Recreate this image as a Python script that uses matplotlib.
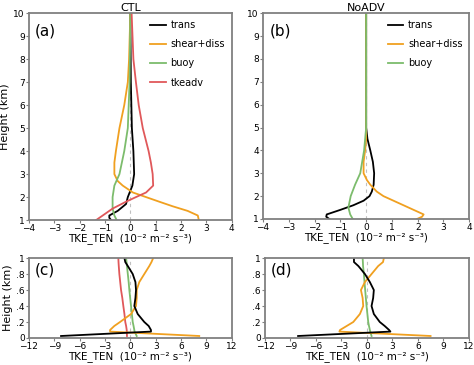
import numpy as np
import matplotlib
matplotlib.use('Agg')
import matplotlib.pyplot as plt

# ---- upper panels: height 1-10 km ----
ctl_trans_z = [10, 7, 5, 4, 3, 2.5, 2, 1.7, 1.4, 1.2, 1.1, 1.0]
ctl_trans_x = [0.0, 0.02, 0.06, 0.12, 0.15, 0.08, -0.1, -0.17, -0.5, -0.83, -0.83, -0.76]

ctl_shear_z = [10, 8, 7, 6, 5, 4, 3.5, 3, 2.7, 2.5, 2.2, 2.0, 1.8, 1.6, 1.4, 1.2, 1.0]
ctl_shear_x = [0.0, -0.05, -0.1, -0.24, -0.43, -0.57, -0.63, -0.63, -0.5, -0.3, 0.1, 0.62,
               1.14, 1.67, 2.26, 2.66, 2.7]

ctl_buoy_z = [10, 7, 5, 4, 3, 2.5, 2, 1.5, 1.2, 1.0]
ctl_buoy_x = [0.0, -0.03, -0.1, -0.24, -0.43, -0.63, -0.7, -0.7, -0.63, -0.54]

ctl_adv_z = [10, 8, 7, 6, 5, 4, 3.5, 3, 2.5, 2.2, 2.0, 1.8, 1.5, 1.2, 1.0]
ctl_adv_x = [0.05, 0.12, 0.22, 0.33, 0.49, 0.72, 0.81, 0.88, 0.9, 0.62, 0.22, -0.17, -0.7, -1.09, -1.35]

noadv_trans_z = [10, 5, 4.5, 4, 3.5, 3, 2.5, 2.2, 2.0, 1.8, 1.6, 1.4, 1.2, 1.1, 1.0]
noadv_trans_x = [0.0, 0.0, 0.05, 0.16, 0.26, 0.31, 0.29, 0.22, 0.13, -0.1, -0.5, -1.0, -1.53, -1.55, -1.43]

noadv_shear_z = [10, 4.5, 4, 3.5, 3, 2.7, 2.5, 2.2, 2.0, 1.8, 1.6, 1.4, 1.2, 1.1, 1.0]
noadv_shear_x = [0.0, 0.0, -0.04, -0.1, -0.1, 0.03, 0.16, 0.41, 0.67, 1.06, 1.45, 1.84, 2.23, 2.17, 1.97]

noadv_buoy_z = [10, 5, 4, 3, 2.5, 2, 1.5, 1.2, 1.0]
noadv_buoy_x = [0.0, 0.0, -0.08, -0.23, -0.43, -0.6, -0.69, -0.62, -0.52]

# ---- lower panels: height 0-1 km ----
low_z = [1.0, 0.95, 0.9, 0.8, 0.7, 0.6, 0.5, 0.4, 0.3, 0.2, 0.15, 0.1, 0.08, 0.025]

ctl_trans_low = [-0.7, -0.6, -0.3, 0.28, 0.6, 0.67, 0.6, 0.47, 0.87, 1.65, 2.17, 2.44, 2.44, -8.2]
ctl_shear_low = [2.7, 2.5, 2.24, 1.65, 1.06, 0.75, 0.75, 0.67, 0.08, -1.22, -1.9, -2.4, -2.4, 8.15]
ctl_buoy_low = [-0.5, -0.45, -0.4, -0.3, -0.2, -0.12, -0.02, 0.08, 0.18, 0.28, 0.38, 0.47, 0.5, 0.75]
ctl_adv_low = [-1.42, -1.4, -1.37, -1.3, -1.2, -1.1, -0.95, -0.83, -0.7, -0.6, -0.5, -0.43, -0.42, -0.4]

noadv_trans_low = [-1.52, -1.52, -1.0, -0.23, 0.35, 0.82, 0.74, 0.55, 0.82, 1.52, 2.1, 2.62, 2.77, -8.1]
noadv_shear_low = [2.0, 1.9, 1.33, 0.55, -0.23, -0.7, -0.5, -0.43, -0.82, -1.6, -2.38, -3.16, -3.24, 7.5]
noadv_buoy_low = [-0.5, -0.47, -0.45, -0.35, -0.28, -0.2, -0.12, -0.04, 0.06, 0.16, 0.25, 0.35, 0.4, 0.55]

c_trans = 'black'
c_shear = '#f0a020'
c_buoy = '#7cbc6c'
c_adv = '#e0585a'
frame_col = '#808080'
xlab = 'TKE_TEN  (10\u207b\u00b2 m\u207b\u00b2 s\u207b\u00b3)'

plt.rcParams['font.family'] = 'DejaVu Sans'
fig = plt.figure(figsize=(4.74, 3.65), dpi=100)

ax_a = fig.add_axes([0.061, 0.397, 0.428, 0.567])
ax_b = fig.add_axes([0.555, 0.400, 0.435, 0.564])
ax_c = fig.add_axes([0.061, 0.074, 0.428, 0.219])
ax_d = fig.add_axes([0.559, 0.074, 0.430, 0.219])


def style(ax, letter):
    for s in ax.spines.values():
        s.set_color(frame_col)
        s.set_linewidth(1.3)
    ax.tick_params(direction='out', length=2.5, width=0.8, color=frame_col,
                   labelsize=6.5, pad=0.5)
    ax.text(0.03, 0.95, letter, transform=ax.transAxes, fontsize=11,
            va='top', ha='left')
    ax.set_xlabel(xlab, fontsize=7.5, labelpad=0)


lw = 1.3
# (a)
ax_a.axvline(0, color='#c0c0c0', lw=0.8, ls=(0, (3, 3)), zorder=0)
ax_a.plot(ctl_trans_x, ctl_trans_z, color=c_trans, lw=lw, label='trans')
ax_a.plot(ctl_shear_x, ctl_shear_z, color=c_shear, lw=lw, label='shear+diss')
ax_a.plot(ctl_buoy_x, ctl_buoy_z, color=c_buoy, lw=lw, label='buoy')
ax_a.plot(ctl_adv_x, ctl_adv_z, color=c_adv, lw=lw, label='tkeadv')
ax_a.set_xlim(-4, 4)
ax_a.set_ylim(1, 10)
ax_a.set_xticks(range(-4, 5))
ax_a.set_yticks(range(1, 11))
ax_a.set_ylabel('Height (km)', fontsize=8, labelpad=2)
ax_a.set_title('CTL', fontsize=8, pad=1)
style(ax_a, '(a)')
ax_a.legend(loc='upper right', frameon=False, fontsize=7, handlelength=1.6,
            labelspacing=0.95, borderaxespad=0.3, handletextpad=0.5)

# (b)
ax_b.axvline(0, color='#c0c0c0', lw=0.8, ls=(0, (3, 3)), zorder=0)
ax_b.plot(noadv_trans_x, noadv_trans_z, color=c_trans, lw=lw, label='trans')
ax_b.plot(noadv_shear_x, noadv_shear_z, color=c_shear, lw=lw, label='shear+diss')
ax_b.plot(noadv_buoy_x, noadv_buoy_z, color=c_buoy, lw=lw, label='buoy')
ax_b.set_xlim(-4, 4)
ax_b.set_ylim(1, 10)
ax_b.set_xticks(range(-4, 5))
ax_b.set_yticks(range(1, 11))
ax_b.set_title('NoADV', fontsize=8, pad=1)
style(ax_b, '(b)')
ax_b.legend(loc='upper right', frameon=False, fontsize=7, handlelength=1.6,
            labelspacing=0.95, borderaxespad=0.3, handletextpad=0.5)

ylow_ticks = [0, 0.2, 0.4, 0.6, 0.8, 1.0]
ylow_labels = ['0', '.2', '.4', '.6', '.8', '1']

# (c)
ax_c.axvline(0, color='#c0c0c0', lw=0.8, ls=(0, (3, 3)), zorder=0)
ax_c.plot(ctl_adv_low, low_z, color=c_adv, lw=lw)
ax_c.plot(ctl_buoy_low, low_z, color=c_buoy, lw=lw)
ax_c.plot(ctl_shear_low, low_z, color=c_shear, lw=lw)
ax_c.plot(ctl_trans_low, low_z, color=c_trans, lw=lw)
ax_c.set_xlim(-12, 12)
ax_c.set_ylim(0, 1)
ax_c.set_xticks(range(-12, 13, 3))
ax_c.set_yticks(ylow_ticks)
ax_c.set_yticklabels(ylow_labels)
ax_c.set_ylabel('Height (km)', fontsize=8, labelpad=2)
style(ax_c, '(c)')

# (d)
ax_d.axvline(0, color='#c0c0c0', lw=0.8, ls=(0, (3, 3)), zorder=0)
ax_d.plot(noadv_buoy_low, low_z, color=c_buoy, lw=lw)
ax_d.plot(noadv_shear_low, low_z, color=c_shear, lw=lw)
ax_d.plot(noadv_trans_low, low_z, color=c_trans, lw=lw)
ax_d.set_xlim(-12, 12)
ax_d.set_ylim(0, 1)
ax_d.set_xticks(range(-12, 13, 3))
ax_d.set_yticks(ylow_ticks)
ax_d.set_yticklabels(ylow_labels)
style(ax_d, '(d)')

fig.savefig('out.png', dpi=100)
